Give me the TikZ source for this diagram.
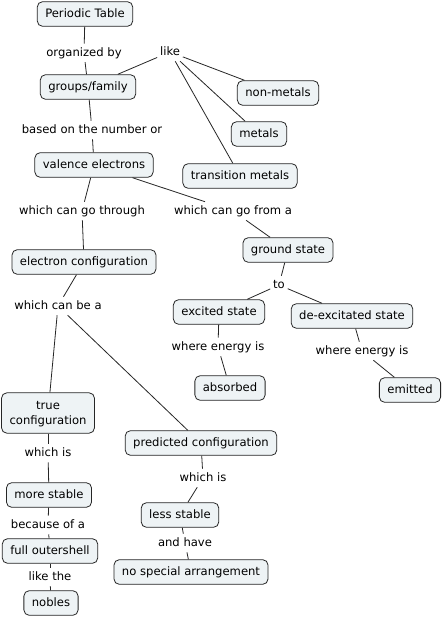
\documentclass[tikz,border=0pt]{standalone}
\usepackage{fontspec}
\setmainfont{DejaVu Sans}
\definecolor{cmapfill}{HTML}{EEF3F5}

\begin{document}
\begin{tikzpicture}[x=0.75pt,y=-0.75pt,
  concept/.style={draw=black!85,fill=cmapfill,rounded corners=4pt,line width=0.6pt,
    inner xsep=6pt,inner ysep=5pt,text height=6.6pt,text depth=1.9pt,
    font=\fontsize{8.7}{11}\selectfont},
  linkword/.style={inner xsep=2pt,inner ysep=2.5pt,text height=6.6pt,text depth=1.9pt,
    font=\fontsize{8.7}{11}\selectfont},
  link/.style={black!85,line width=0.6pt}]

% frame of the picture
\fill[white] (0,0) rectangle (444,617);
\useasboundingbox (0,0) rectangle (444,617);

% ---------------- CONCEPTS ----------------
\node[concept] (table) at (85,14) {Periodic Table};
\node[concept] (groups) at (88,87) {groups/family};
\node[concept] (valence) at (94,165) {valence electrons};
\node[concept] (nonmetals) at (278,93) {non-metals};
\node[concept] (metals) at (259,134) {metals};
\node[concept] (transition) at (240,176) {transition metals};
\node[concept] (econfig) at (84,262) {electron configuration};
\node[concept] (ground) at (288,250) {ground state};
\node[concept] (excited) at (219,312) {excited state};
\node[concept] (deexcited) at (352,316) {de-excitated state};
\node[concept] (absorbed) at (230,388) {absorbed};
\node[concept] (emitted) at (410,390) {emitted};
\node[concept,align=center,text height=18.4pt] (trueconf) at (48,413) {true\\configuration};
\node[concept] (predicted) at (201,443) {predicted configuration};
\node[concept] (morestable) at (49,495) {more stable};
\node[concept] (lessstable) at (180,515) {less stable};
\node[concept] (outershell) at (50,551) {full outershell};
\node[concept] (nospecial) at (191,572) {no special arrangement};
\node[concept] (nobles) at (51,603) {nobles};

% ---------------- LINKING WORDS ----------------
\node[linkword] (organized) at (84,53) {organized by};
\node[linkword] (like) at (170,52) {like};
\node[linkword] (based) at (92,130) {based on the number or};
\node[linkword] (through) at (82,211) {which can go through};
\node[linkword] (froma) at (233,211) {which can go from a};
\node[linkword] (to) at (279,285) {to};
\node[linkword] (canbe) at (58,306) {which can be a};
\node[linkword] (energyabs) at (218,347) {where energy is};
\node[linkword] (energyem) at (362,351) {where energy is};
\node[linkword] (whichtrue) at (48,453) {which is};
\node[linkword] (whichpred) at (203,478) {which is};
\node[linkword] (becauseof) at (48,525) {because of a};
\node[linkword] (andhave) at (185,543) {and have};
\node[linkword] (likethe) at (50,577) {like the};

% ---------------- CONNECTORS ----------------
\draw[link] (table) -- (organized);
\draw[link] (organized) -- (groups);
\draw[link] (groups) -- (based);
\draw[link] (based) -- (valence);
\draw[link] (groups) -- (like);
\draw[link] (like) -- (nonmetals);
\draw[link] (like) -- (metals);
\draw[link] (like) -- (transition);
\draw[link] (valence) -- (through);
\draw[link] (through) -- (econfig);
\draw[link] (valence) -- (froma);
\draw[link] (froma) -- (ground);
\draw[link] (ground) -- (to);
\draw[link] (to) -- (excited);
\draw[link] (to) -- (deexcited);
\draw[link] (excited) -- (energyabs);
\draw[link] (energyabs) -- (absorbed);
\draw[link] (deexcited) -- (energyem);
\draw[link] (energyem) -- (emitted);
\draw[link] (econfig) -- (canbe);
\draw[link] (canbe) -- (trueconf);
\draw[link] (canbe) -- (predicted);
\draw[link] (trueconf) -- (whichtrue);
\draw[link] (whichtrue) -- (morestable);
\draw[link] (morestable) -- (becauseof);
\draw[link] (becauseof) -- (outershell);
\draw[link] (outershell) -- (likethe);
\draw[link] (likethe) -- (nobles);
\draw[link] (predicted) -- (whichpred);
\draw[link] (whichpred) -- (lessstable);
\draw[link] (lessstable) -- (andhave);
\draw[link] (andhave) -- (nospecial);

\end{tikzpicture}
\end{document}
